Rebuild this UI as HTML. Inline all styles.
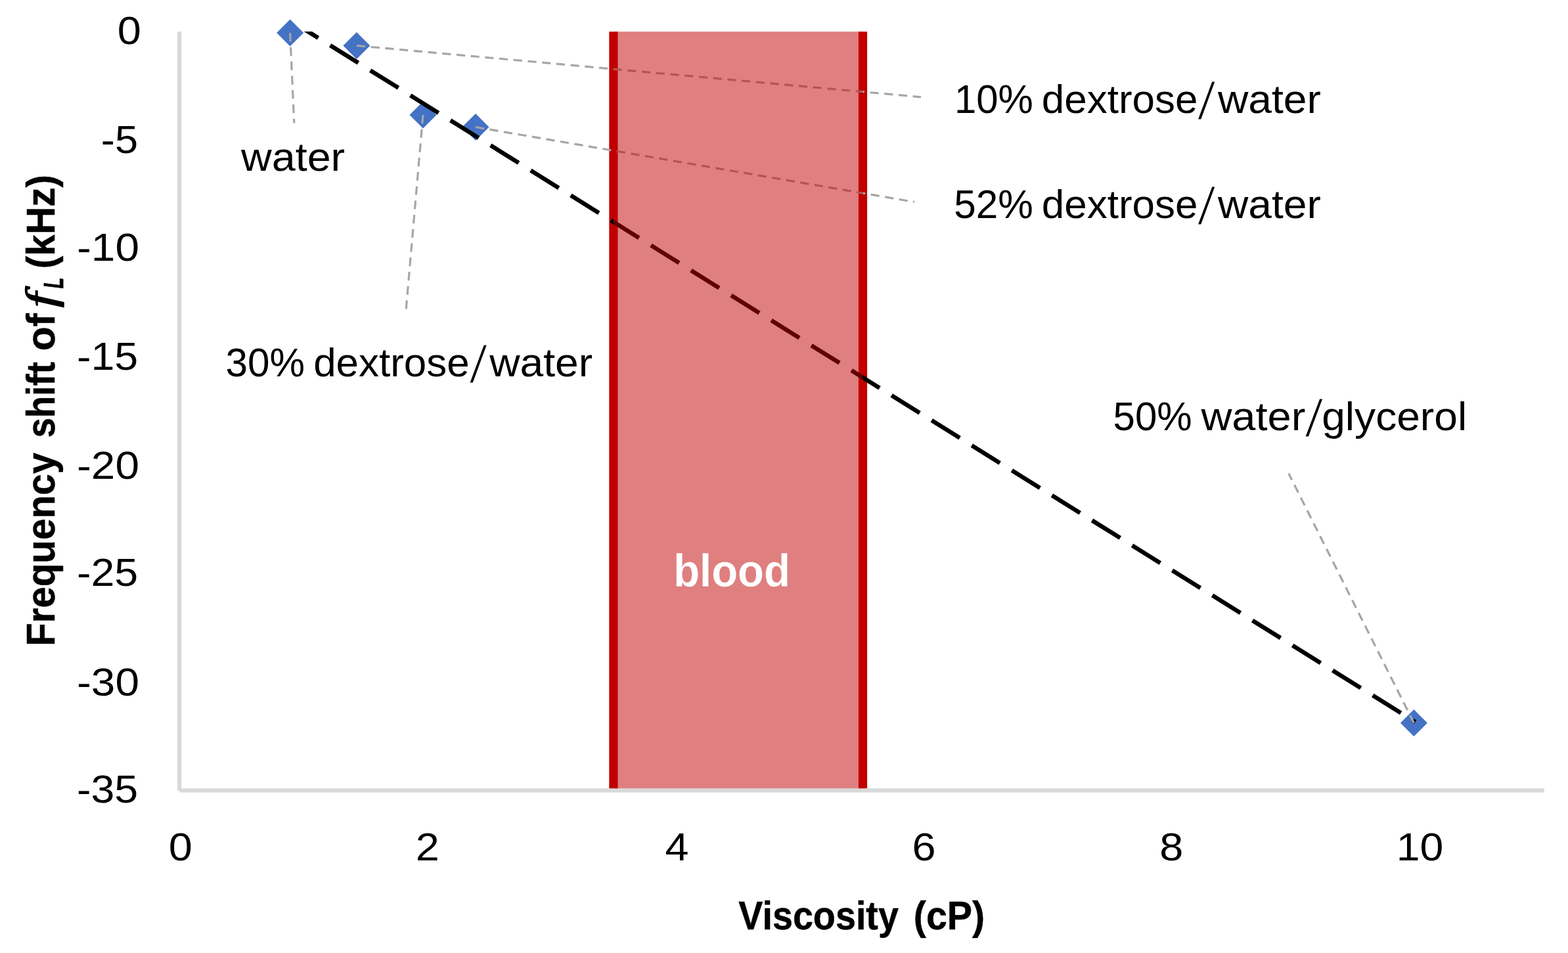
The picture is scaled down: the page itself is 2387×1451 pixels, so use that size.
<!DOCTYPE html>
<html lang="en"><head><meta charset="utf-8"><title>Frequency shift vs viscosity</title>
<style>html,body{margin:0;padding:0;background:#fff}body{width:2387px;height:1451px;overflow:hidden}svg{display:block}text{font-family:"Liberation Sans", Arial, sans-serif;white-space:pre}</style>
</head><body>
<svg width="2387" height="1451" viewBox="0 0 2387 1451">
<defs><clipPath id="plot"><rect x="270.0" y="48.1" width="2080.7" height="1158.5"/></clipPath></defs>
<rect width="2387" height="1451" fill="#ffffff"/>
<g fill="#d9d9d9">
<rect x="270.0" y="48.1" width="6.2" height="1155.4"/>
<rect x="273.0" y="1200.3" width="2077.7" height="6.3"/>
</g>
<rect x="927.3" y="48.2" width="13.2" height="1152.1" fill="#c00000"/>
<rect x="1306.9" y="48.2" width="13.2" height="1152.1" fill="#c00000"/>
<g fill="#4472c4">
<path d="M441.6 29.6L462.1 50.1L441.6 70.6L421.1 50.1Z"/>
<path d="M542.9 49.0L563.4 69.5L542.9 90.0L522.4 69.5Z"/>
<path d="M644.0 154.5L664.5 175.0L644.0 195.5L623.5 175.0Z"/>
<path d="M724.0 173.0L744.5 193.5L724.0 214.0L703.5 193.5Z"/>
<path d="M2152.4 1080.3L2172.9 1100.8L2152.4 1121.3L2131.9 1100.8Z"/>
</g>
<g clip-path="url(#plot)"><line x1="441.6" y1="31.0" x2="2154.6" y2="1099.3" stroke="#000000" stroke-width="6.50" stroke-dasharray="50.50 21.44"/></g>
<g stroke="#a6a6a6" stroke-width="3.2" stroke-dasharray="13.2 8.6" fill="none">
<line x1="441.6" y1="50.1" x2="447.8" y2="187.4"/>
<line x1="542.9" y1="69.5" x2="1402.0" y2="147.8"/>
<line x1="644.0" y1="175.0" x2="618.1" y2="471.8"/>
<line x1="724.0" y1="193.5" x2="1392.0" y2="307.5"/>
<line x1="2152.4" y1="1100.8" x2="1961.7" y2="720.8"/>
</g>
<rect x="933.9" y="48.2" width="379.6" height="1152.1" fill="#c00000" fill-opacity="0.5"/>
<text font-size="59.50" font-weight="normal" fill="#000000"><tspan x="178.71" y="66.50" textLength="36.07" lengthAdjust="spacingAndGlyphs">0</tspan></text>
<text font-size="59.50" font-weight="normal" fill="#000000"><tspan x="153.88" y="233.30" textLength="56.17" lengthAdjust="spacingAndGlyphs">-5</tspan></text>
<text font-size="59.50" font-weight="normal" fill="#000000"><tspan x="116.96" y="396.50" textLength="95.02" lengthAdjust="spacingAndGlyphs">-10</tspan></text>
<text font-size="59.50" font-weight="normal" fill="#000000"><tspan x="117.02" y="562.70" textLength="93.19" lengthAdjust="spacingAndGlyphs">-15</tspan></text>
<text font-size="59.50" font-weight="normal" fill="#000000"><tspan x="116.96" y="729.10" textLength="95.02" lengthAdjust="spacingAndGlyphs">-20</tspan></text>
<text font-size="59.50" font-weight="normal" fill="#000000"><tspan x="117.02" y="892.40" textLength="93.19" lengthAdjust="spacingAndGlyphs">-25</tspan></text>
<text font-size="59.50" font-weight="normal" fill="#000000"><tspan x="116.96" y="1058.80" textLength="95.02" lengthAdjust="spacingAndGlyphs">-30</tspan></text>
<text font-size="59.50" font-weight="normal" fill="#000000"><tspan x="117.02" y="1221.90" textLength="93.19" lengthAdjust="spacingAndGlyphs">-35</tspan></text>
<text font-size="59.50" font-weight="normal" fill="#000000"><tspan x="256.86" y="1310.40" textLength="36.07" lengthAdjust="spacingAndGlyphs">0</tspan></text>
<text font-size="59.50" font-weight="normal" fill="#000000"><tspan x="632.86" y="1310.40" textLength="36.07" lengthAdjust="spacingAndGlyphs">2</tspan></text>
<text font-size="59.50" font-weight="normal" fill="#000000"><tspan x="1012.64" y="1310.40" textLength="36.07" lengthAdjust="spacingAndGlyphs">4</tspan></text>
<text font-size="59.50" font-weight="normal" fill="#000000"><tspan x="1388.49" y="1310.40" textLength="36.07" lengthAdjust="spacingAndGlyphs">6</tspan></text>
<text font-size="59.50" font-weight="normal" fill="#000000"><tspan x="1765.32" y="1310.40" textLength="36.07" lengthAdjust="spacingAndGlyphs">8</tspan></text>
<text font-size="59.50" font-weight="normal" fill="#000000"><tspan x="2125.73" y="1310.40" textLength="71.61" lengthAdjust="spacingAndGlyphs">10</tspan></text>
<text font-size="61.30" font-weight="normal" fill="#000000"><tspan x="367.00" y="260.20" textLength="158.14" lengthAdjust="spacingAndGlyphs">water</tspan></text>
<text font-size="61.30" font-weight="normal" fill="#000000"><tspan x="343.59" y="573.30" textLength="120.46" lengthAdjust="spacingAndGlyphs">30%</tspan> <tspan x="477.17" y="573.30" textLength="237.51" lengthAdjust="spacingAndGlyphs">dextrose</tspan><tspan x="712.66" y="583.30" font-size="82.00" textLength="30.81" lengthAdjust="spacingAndGlyphs" stroke="#ffffff" stroke-width="3.20" stroke-linejoin="round">/</tspan><tspan x="745.20" y="573.30" textLength="156.93" lengthAdjust="spacingAndGlyphs">water</tspan></text>
<text font-size="61.30" font-weight="normal" fill="#000000"><tspan x="1452.96" y="172.20" textLength="119.77" lengthAdjust="spacingAndGlyphs">10%</tspan> <tspan x="1585.87" y="172.20" textLength="237.51" lengthAdjust="spacingAndGlyphs">dextrose</tspan><tspan x="1821.36" y="182.20" font-size="82.00" textLength="30.81" lengthAdjust="spacingAndGlyphs" stroke="#ffffff" stroke-width="3.20" stroke-linejoin="round">/</tspan><tspan x="1853.90" y="172.20" textLength="156.93" lengthAdjust="spacingAndGlyphs">water</tspan></text>
<text font-size="61.30" font-weight="normal" fill="#000000"><tspan x="1452.24" y="332.30" textLength="120.50" lengthAdjust="spacingAndGlyphs">52%</tspan> <tspan x="1585.87" y="332.30" textLength="237.51" lengthAdjust="spacingAndGlyphs">dextrose</tspan><tspan x="1821.36" y="342.30" font-size="82.00" textLength="30.81" lengthAdjust="spacingAndGlyphs" stroke="#ffffff" stroke-width="3.20" stroke-linejoin="round">/</tspan><tspan x="1853.90" y="332.30" textLength="156.93" lengthAdjust="spacingAndGlyphs">water</tspan></text>
<text font-size="61.30" font-weight="normal" fill="#000000"><tspan x="1694.55" y="655.00" textLength="120.09" lengthAdjust="spacingAndGlyphs">50%</tspan> <tspan x="1828.40" y="655.00" textLength="158.94" lengthAdjust="spacingAndGlyphs">water</tspan><tspan x="1984.71" y="665.00" font-size="82.00" textLength="31.30" lengthAdjust="spacingAndGlyphs" stroke="#ffffff" stroke-width="3.20" stroke-linejoin="round">/</tspan><tspan x="2012.18" y="655.00" textLength="220.97" lengthAdjust="spacingAndGlyphs">glycerol</tspan></text>
<text font-size="70.00" font-weight="bold" fill="#ffffff"><tspan x="1025.17" y="893.00" textLength="177.75" lengthAdjust="spacingAndGlyphs" stroke="#df7f7f" stroke-width="0.30" stroke-linejoin="round">blood</tspan></text>
<text font-size="61.00" font-weight="bold" fill="#000000"><tspan x="1124.27" y="1414.60" textLength="243.64" lengthAdjust="spacingAndGlyphs" stroke="#000000" stroke-width="0.50" stroke-linejoin="round">Viscosity</tspan> <tspan x="1390.81" y="1414.60" textLength="108.37" lengthAdjust="spacingAndGlyphs" stroke="#000000" stroke-width="0.50" stroke-linejoin="round">(cP)</tspan></text>
<text transform="translate(82.80 0) rotate(-90)" font-size="60.50" font-weight="bold" fill="#000000"><tspan x="-984.12" y="0.00" textLength="295.03" lengthAdjust="spacingAndGlyphs" stroke="#000000" stroke-width="0.50" stroke-linejoin="round">Frequency</tspan> <tspan x="-666.61" y="0.00" textLength="115.64" lengthAdjust="spacingAndGlyphs" stroke="#000000" stroke-width="0.50" stroke-linejoin="round">shift</tspan> <tspan x="-534.20" y="0.00" textLength="57.01" lengthAdjust="spacingAndGlyphs" stroke="#000000" stroke-width="0.50" stroke-linejoin="round">of</tspan> <tspan x="-468.30" y="0.00" font-size="64.00" font-weight="normal" font-style="italic" style='font-family:&quot;Liberation Serif&quot;, &quot;DejaVu Serif&quot;, serif' textLength="22.91" lengthAdjust="spacingAndGlyphs" stroke="#000000" stroke-width="1.50" stroke-linejoin="round">f</tspan><tspan x="-439.36" y="13.40" font-size="43.00" font-style="italic" textLength="16.43" lengthAdjust="spacingAndGlyphs" stroke="#000000" stroke-width="1.00" stroke-linejoin="round">L</tspan> <tspan x="-409.16" y="0.00" textLength="143.12" lengthAdjust="spacingAndGlyphs" stroke="#000000" stroke-width="0.50" stroke-linejoin="round">(kHz)</tspan></text>
</svg></body></html>
